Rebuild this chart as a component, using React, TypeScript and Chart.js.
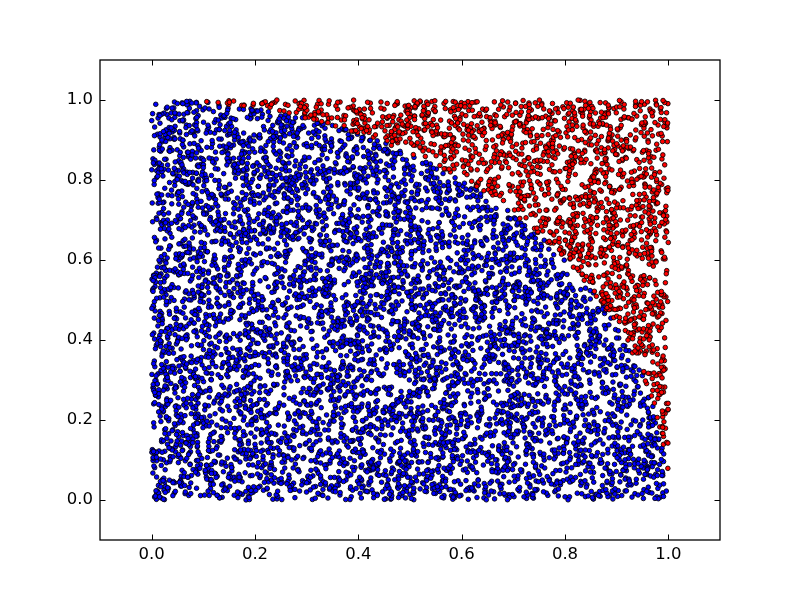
import React, { useEffect, useRef } from "react";
import { Chart, registerables } from "chart.js";

Chart.register(...registerables);

// The reference is a Monte Carlo sample of points in the unit square (inside the
// quarter circle x²+y²<1 drawn blue, outside drawn red). The individual points
// cannot be read off the picture, so a fixed-seed uniform sample of similar size
// stands in for them.
const POINT_COUNT = 8000;
const SEED = 20240611;

function mulberry32(a: number) {
  return function () {
    a |= 0;
    a = (a + 0x6d2b79f5) | 0;
    let t = Math.imul(a ^ (a >>> 15), 1 | a);
    t = (t + Math.imul(t ^ (t >>> 7), 61 | t)) ^ t;
    return ((t ^ (t >>> 14)) >>> 0) / 4294967296;
  };
}

const rng = mulberry32(SEED);
const xValues: number[] = [];
const yValues: number[] = [];
for (let i = 0; i < POINT_COUNT; i++) {
  xValues.push(rng());
  yValues.push(rng());
}

const insidePoints: { x: number; y: number }[] = [];
const outsidePoints: { x: number; y: number }[] = [];
xValues.forEach((x, i) => {
  const y = yValues[i];
  if (x * x + y * y < 1) insidePoints.push({ x, y });
  else outsidePoints.push({ x, y });
});

const xTicks = [0.0, 0.2, 0.4, 0.6, 0.8, 1.0];
const yTicks = [0.0, 0.2, 0.4, 0.6, 0.8, 1.0];
const axisMin = -0.1;
const axisMax = 1.1;

const framePlugin = {
  id: "mplFrame",
  afterDraw(chart: any) {
    const { ctx, chartArea } = chart;
    const { left, right, top, bottom } = chartArea;
    const xs = chart.scales.x;
    const ys = chart.scales.y;
    const len = 5.5;
    ctx.save();
    ctx.strokeStyle = "#000";
    ctx.lineWidth = 1;
    ctx.beginPath();
    xTicks.forEach((v) => {
      const px = Math.round(xs.getPixelForValue(v)) + 0.5;
      ctx.moveTo(px, bottom);
      ctx.lineTo(px, bottom - len);
      ctx.moveTo(px, top);
      ctx.lineTo(px, top + len);
    });
    yTicks.forEach((v) => {
      const py = Math.round(ys.getPixelForValue(v)) + 0.5;
      ctx.moveTo(left, py);
      ctx.lineTo(left + len, py);
      ctx.moveTo(right, py);
      ctx.lineTo(right - len, py);
    });
    ctx.stroke();
    ctx.lineWidth = 1.3;
    ctx.strokeRect(left, top, right - left, bottom - top);
    ctx.restore();
  },
};

export default function App() {
  const canvasRef = useRef<HTMLCanvasElement | null>(null);

  useEffect(() => {
    document.body.style.margin = "0";
    const canvas = canvasRef.current;
    if (!canvas) return;
    const tickFont = { family: "'DejaVu Sans', sans-serif", size: 16.5 };
    const chart = new Chart(canvas, {
      type: "scatter",
      data: {
        datasets: [
          {
            label: "outside",
            data: outsidePoints,
            backgroundColor: "#ff0000",
            borderColor: "#000000",
            borderWidth: 0.85,
            pointRadius: 2.3,
          },
          {
            label: "inside",
            data: insidePoints,
            backgroundColor: "#0000ff",
            borderColor: "#000000",
            borderWidth: 0.85,
            pointRadius: 2.3,
          },
        ],
      },
      options: {
        animation: false,
        responsive: false,
        devicePixelRatio: 1,
        events: [],
        layout: { padding: { left: 0, right: 80, top: 60, bottom: 0 } },
        plugins: {
          legend: { display: false },
          tooltip: { enabled: false },
          title: { display: false },
        },
        scales: {
          x: {
            type: "linear",
            min: axisMin,
            max: axisMax,
            grid: { display: false, drawTicks: false },
            border: { display: false },
            afterBuildTicks: (scale: any) => {
              scale.ticks = xTicks.map((v) => ({ value: v }));
            },
            afterFit: (scale: any) => {
              scale.height = 60;
            },
            ticks: {
              color: "#000",
              font: tickFont,
              padding: 5,
              maxRotation: 0,
              autoSkip: false,
              callback: (v: any) => Number(v).toFixed(1),
            },
          },
          y: {
            type: "linear",
            min: axisMin,
            max: axisMax,
            grid: { display: false, drawTicks: false },
            border: { display: false },
            afterBuildTicks: (scale: any) => {
              scale.ticks = yTicks.map((v) => ({ value: v }));
            },
            afterFit: (scale: any) => {
              scale.width = 100;
            },
            ticks: {
              color: "#000",
              font: tickFont,
              padding: 7,
              autoSkip: false,
              callback: (v: any) => Number(v).toFixed(1),
            },
          },
        },
      },
      plugins: [framePlugin],
    });
    return () => chart.destroy();
  }, []);

  return (
    <div style={{ position: "absolute", left: 0, top: 0, width: 800, height: 600, background: "#fff" }}>
      <canvas ref={canvasRef} width={800} height={600} style={{ width: 800, height: 600 }} />
    </div>
  );
}
